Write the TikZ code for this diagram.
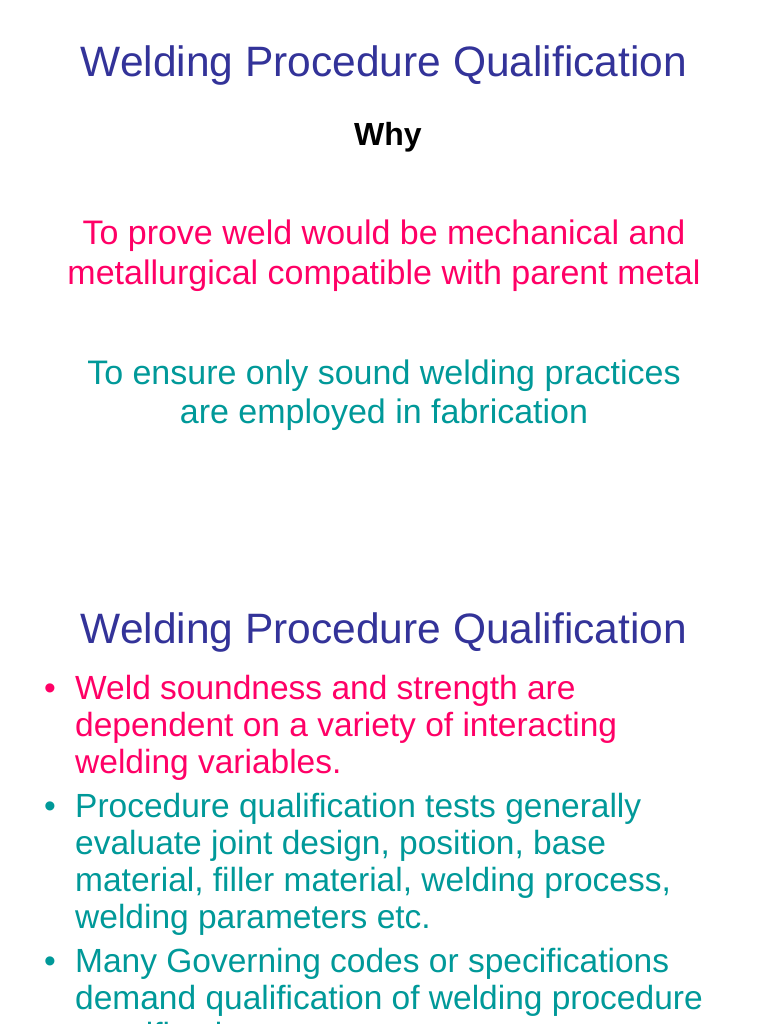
\documentclass[tikz,border=0pt]{standalone}
\usepackage{fontspec}
\setmainfont{Liberation Sans}
\definecolor{tblue}{HTML}{333399}
\definecolor{tpink}{HTML}{FF0066}
\definecolor{tteal}{HTML}{009999}
\begin{document}
\begin{tikzpicture}[x=1pt,y=-1pt,
  ttl/.style={anchor=base,text=tblue,font=\fontsize{42.5}{48}\selectfont},
  body/.style={anchor=base,font=\fontsize{34}{40}\selectfont},
  bl/.style={anchor=base west,font=\fontsize{33.5}{40}\selectfont,inner sep=0pt}]
\useasboundingbox[fill=white] (0,0) rectangle (768,1024);
\clip (0,0) rectangle (768,1024);
\node[ttl] (t1) at (384,77) {Welding Procedure Qualification};
\node[body,font=\bfseries\fontsize{32}{37}\selectfont] (why) at (388,146) {Why};
\node[body,text=tpink] (p1) at (384,244) {To prove weld would be mechanical and};
\node[body,text=tpink] (p2) at (384,284) {metallurgical compatible with parent metal};
\node[body,text=tteal] (q1) at (384,384) {To ensure only sound welding practices};
\node[body,text=tteal] (q2) at (384,423) {are employed in fabrication};
\node[ttl] (t2) at (384,643) {Welding Procedure Qualification};
\foreach \y/\c/\t [count=\i] in {
 699/tpink/Weld soundness and strength are,
 736/tpink/dependent on a variety of interacting,
 773/tpink/welding variables.,
 817/tteal/Procedure qualification tests generally,
 854/tteal/{evaluate joint design, position, base},
 891/tteal/{material, filler material, welding process,},
 928/tteal/welding parameters etc.,
 972/tteal/Many Governing codes or specifications,
 1009/tteal/demand qualification of welding procedure,
 1046/tteal/specification}
  \node[bl,text=\c] (b\i) at (75,\y) {\t};
\foreach \y/\c [count=\i] in {699/tpink,817/tteal,972/tteal}
  \node[bl,text=\c] (d\i) at (44,\y) {•};
\end{tikzpicture}
\end{document}
